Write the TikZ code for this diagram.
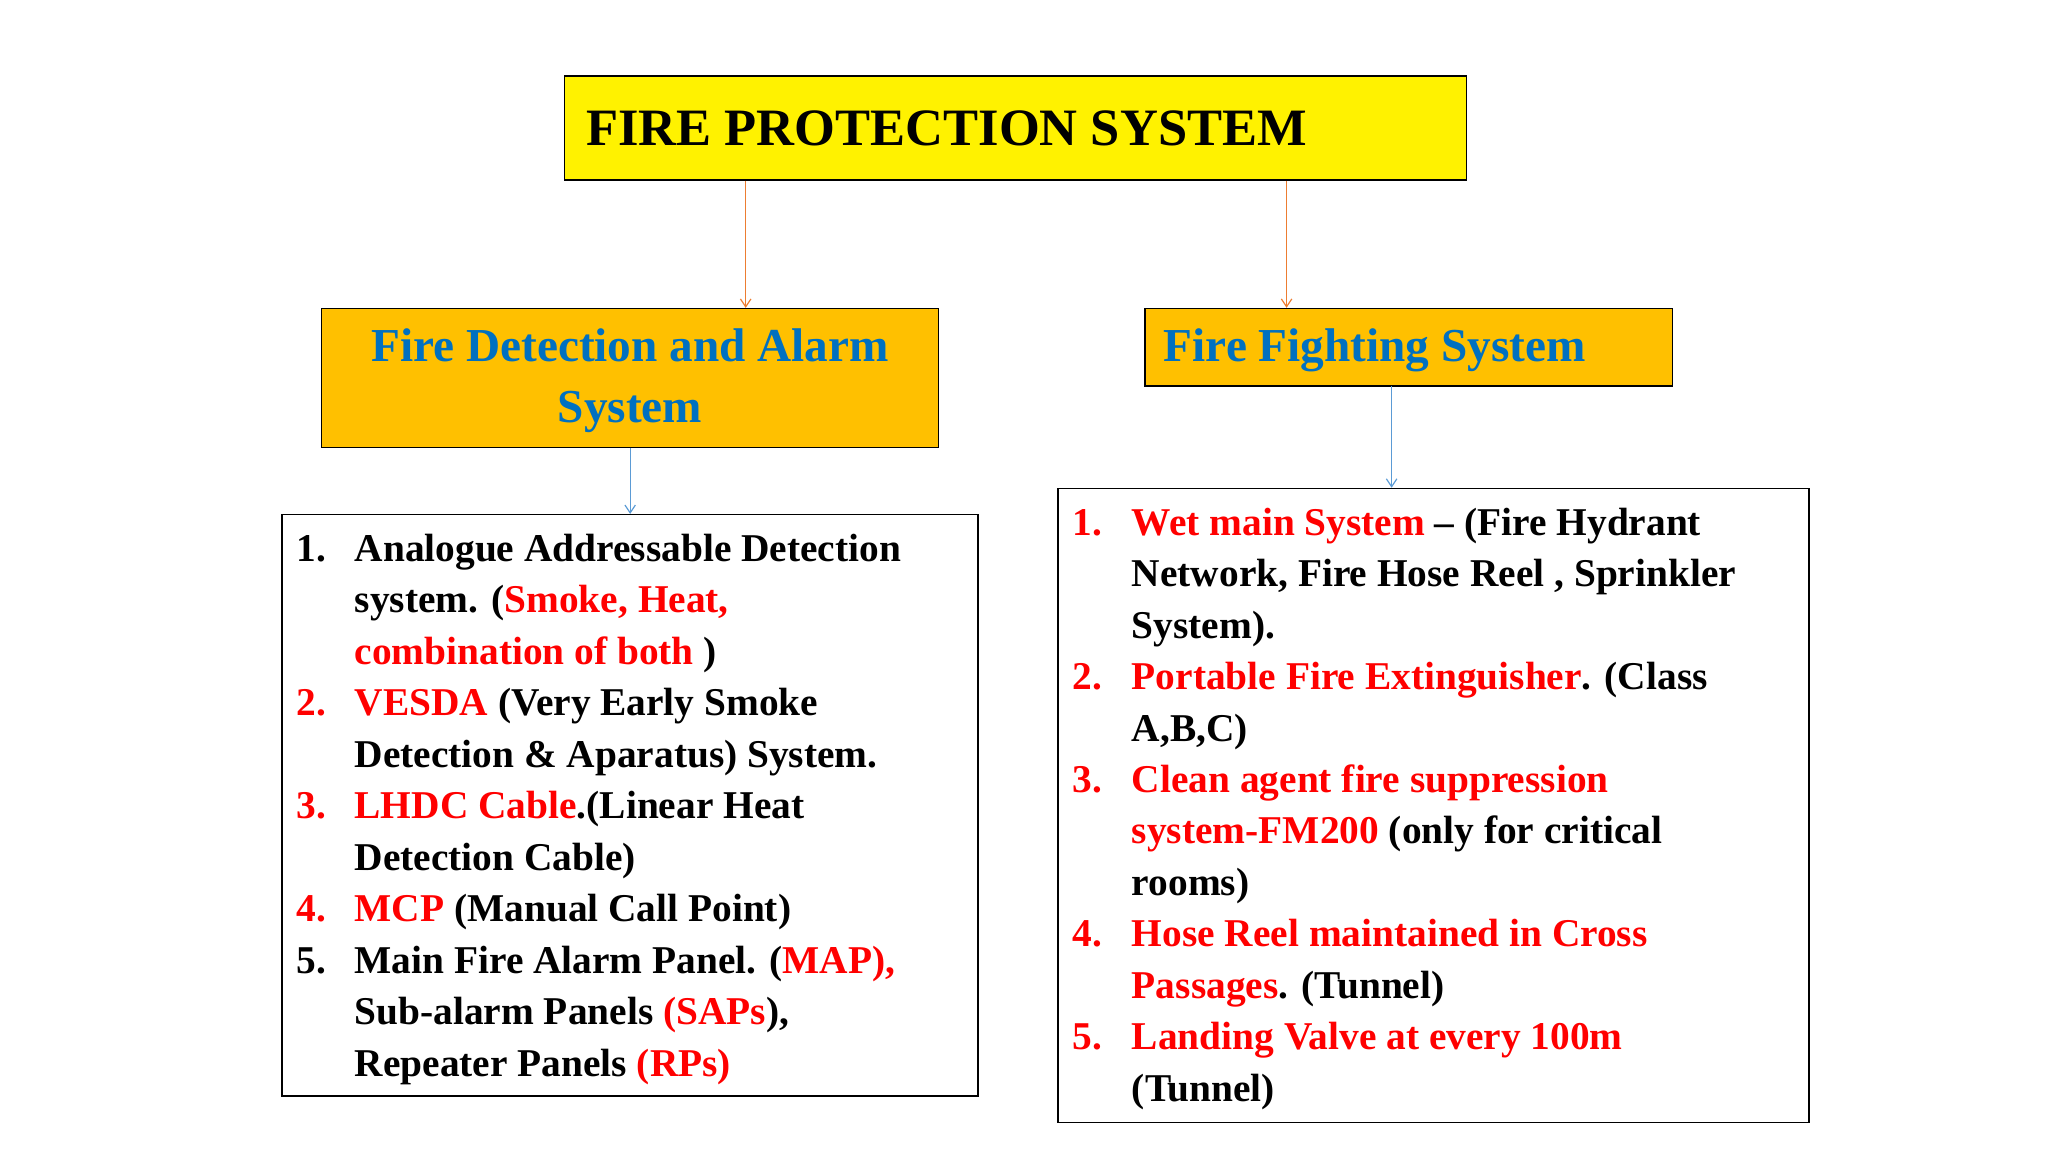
\documentclass[tikz,border=0pt]{standalone}
\usepackage{fontspec}
\setmainfont{Liberation Serif}
\usepackage{array}
\usetikzlibrary{arrows.meta}
\definecolor{hblue}{RGB}{0,112,192}
\definecolor{hor}{RGB}{255,192,0}
\definecolor{ored}{RGB}{237,125,49}
\definecolor{lblue}{RGB}{91,155,213}
\definecolor{rd}{RGB}{255,0,0}
\newcommand{\R}[1]{\textcolor{rd}{#1}}
\begin{document}
\begin{tikzpicture}[x=1pt,y=-1pt,
  box/.style={draw=black,line width=1.2pt,inner sep=0pt},
  conn/.style={line width=0.9pt,-{Straight Barb[length=6pt,width=8pt]}},
  lst/.style={anchor=north west,inner sep=0pt,align=left,font=\bfseries\fontsize{30}{39.2}\selectfont}]
\useasboundingbox (0,0) rectangle (1560,877.5);
\node[box,fill=yellow,minimum width=687pt,minimum height=79pt] (top) at (773.5,97.5) {};
\node[anchor=west,font=\bfseries\fontsize{40}{44}\selectfont] (tt) at (443,97.5) {FIRE PROTECTION SYSTEM};
\node[box,fill=hor,minimum width=470pt,minimum height=106pt] (fd) at (480,288) {};
\node[align=center,text=hblue,font=\bfseries\fontsize{36}{47}\selectfont] (fdt) at (480,290) {Fire Detection and Alarm\\System};
\node[box,fill=hor,minimum width=402pt,minimum height=59pt] (ff) at (1073,264.5) {};
\node[anchor=west,text=hblue,font=\bfseries\fontsize{36}{47}\selectfont] (fft) at (883,267) {Fire Fighting System};
\node[box,minimum width=530pt,minimum height=443pt] (lb) at (480,613.5) {};
\node[box,minimum width=572pt,minimum height=483pt] (rb) at (1092,613.5) {};
\coordinate (a1) at (568,137.5); \coordinate (b1) at (568,234.5);
\coordinate (a2) at (980,137.5); \coordinate (b2) at (980,234.5);
\coordinate (a3) at (480,341); \coordinate (b3) at (480,391.5);
\coordinate (a4) at (1060,294); \coordinate (b4) at (1060,371.5);
\draw[conn,ored] (a1) -- (b1);
\draw[conn,ored] (a2) -- (b2);
\draw[conn,lblue] (a3) -- (b3);
\draw[conn,lblue] (a4) -- (b4);
\node[lst] (ll) at (226,400) {%
\begin{tabular}{@{}p{44pt}@{}l@{}}
1. & Analogue Addressable Detection\\
 & system. (\R{Smoke, Heat,}\\
 & \R{combination of both} )\\
\R{2.} & \R{VESDA} (Very Early Smoke\\
 & Detection \& Aparatus) System.\\
\R{3.} & \R{LHDC Cable}.(Linear Heat\\
 & Detection Cable)\\
\R{4.} & \R{MCP} (Manual Call Point)\\
5. & Main Fire Alarm Panel. (\R{MAP),}\\
 & Sub-alarm Panels \R{(SAPs}),\\
 & Repeater Panels \R{(RPs)}
\end{tabular}};
\node[lst] (rl) at (817,380) {%
\begin{tabular}{@{}p{45pt}@{}l@{}}
\R{1.} & \R{Wet main System} -- (Fire Hydrant\\
 & Network, Fire Hose Reel , Sprinkler\\
 & System).\\
\R{2.} & \R{Portable Fire Extinguisher}. (Class\\
 & A,B,C)\\
\R{3.} & \R{Clean agent fire suppression}\\
 & \R{system-FM200} (only for critical\\
 & rooms)\\
\R{4.} & \R{Hose Reel maintained in Cross}\\
 & \R{Passages}. (Tunnel)\\
\R{5.} & \R{Landing Valve at every 100m}\\
 & (Tunnel)
\end{tabular}};
\end{tikzpicture}
\end{document}
